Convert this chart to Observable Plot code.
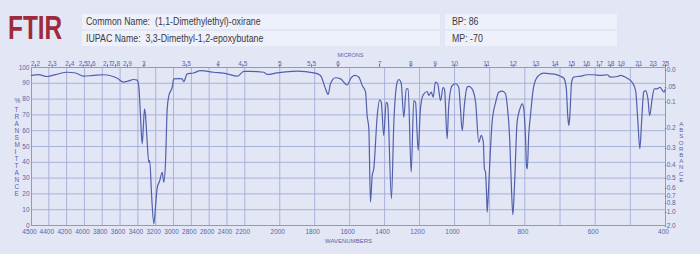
<!DOCTYPE html>
<html>
<head>
<meta charset="utf-8">
<script src="https://cdn.jsdelivr.net/npm/d3@7"></script>
<script src="https://cdn.jsdelivr.net/npm/@observablehq/plot@0.6"></script>
<style>
  html, body { margin: 0; padding: 0; }
  body { width: 700px; height: 254px; background: #e3e7f5; position: relative; overflow: hidden; font-family: "Liberation Sans", Arial, sans-serif; }
  #ftir { position: absolute; left: 8px; top: 9px; font-size: 33px; font-weight: bold; color: #9e2b3c; transform: scaleX(0.74); transform-origin: left top; }
  .box { position: absolute; background: #eef0fa; height: 15px; }
  .lbl { position: absolute; font-size: 11px; color: #3a3a44; white-space: nowrap; transform: scaleX(0.8); transform-origin: left top; line-height: 15px; }
  #chart { position: absolute; left: 0; top: 48px; }
</style>
</head>
<body>
<div id="ftir">FTIR</div>
<div class="box" style="left:82px; top:14px; width:358px;"></div>
<div class="box" style="left:82px; top:31px; width:358px;"></div>
<div class="box" style="left:445px; top:14px; width:172px;"></div>
<div class="box" style="left:445px; top:31px; width:172px;"></div>
<div class="lbl" style="left:86px; top:14px;">Common Name:&nbsp;&nbsp;(1,1-Dimethylethyl)-oxirane</div>
<div class="lbl" style="left:86px; top:31px;">IUPAC Name:&nbsp;&nbsp;3,3-Dimethyl-1,2-epoxybutane</div>
<div class="lbl" style="left:452px; top:14px;">BP: 86</div>
<div class="lbl" style="left:452px; top:31px;">MP: -70</div>
<div id="chart"></div>
<script>
// ---- data ----
const wavenumber = [4500,4460,4409,4325,4193,4100,4011,3898,3786,3707,3632,3562,3505,3449,3408,3390,3371,3352,3341,3326,3315,3298,3278,3267,3247,3221,3202,3183,3157,3127,3109,3090,3071,3053,3015,2997,2944,2903,2885,2847,2776,2697,2548,2398,2285,2211,2167,2091,2072,2015,1900,1805,1767,1738,1723,1710,1681,1652,1614,1595,1572,1548,1528,1509,1500,1490,1481,1471,1462,1442,1429,1419,1405,1391,1383,1361,1347,1328,1319,1305,1290,1276,1265,1248,1233,1223,1208,1195,1179,1156,1147,1133,1122,1109,1096,1080,1065,1057,1042,1033,1013,997,988,983,978,972,964,959,950,940,931,924,918,915,912,909,907,904,900,893,883,874,864,855,850,843,838,834,829,822,814,807,803,798,795,793,789,784,776,770,760,746,727,713,699,689,682,678,675,672,667,661,642,623,604,585,566,556,537,528,509,495,485,479,473,468,462,457,450,445,438,432,424,415,410,404,401];
const transmittance = [95,95.5,94.3,95.5,97,96.5,94.5,95,95.4,94.8,93.2,90.7,91.5,92.4,92,88,70,51.7,60,73.8,70,55,40,41,20,1,12,24,28,33.7,27.4,40,73.8,82,87.5,92.8,93,92.8,91,96,96.5,98,97,96,94.5,97.5,97.5,97,95.6,96.6,97.7,96.6,95,86.5,82.9,89.7,93.5,92.8,89,92.8,95,94,88.6,84.4,69.6,61,14.7,31.6,35.9,69.6,79.5,78,57,78,77,16.9,65.4,90.7,92.4,90,68.5,86.5,86.5,33.7,79,78,47.5,73.8,82.7,84.8,82.3,84.4,81.2,90.7,89.7,79,87.5,86,54.9,76,88.6,89.7,87.5,73.8,60,76,87.5,88,86.5,78,52.7,57,52.7,35.9,34,21,8.4,19,38,65.4,78,84.4,85,83.4,76,54.9,23.2,6.8,27.4,65.4,73.8,77,73.8,54.9,36.9,35.9,57,69.6,86.5,91.8,95,96.4,96,95.6,94.5,93.2,86.5,69.6,63.3,69.6,90.7,93.9,94.5,95.4,95.4,95,95.4,93.9,94.3,95,93.2,90.7,85.4,67.5,48.5,65.4,84.4,85.4,80.2,69.6,80.2,86.5,86.5,87.5,85.9,84.4,86];

// axis ticks
const wavenumberTicks = [4500,4400,4200,4000,3800,3600,3400,3200,3000,2800,2600,2400,2200,2000,1800,1600,1400,1200,1000,800,600,400];
const wavenumberGrid = [4400,4200,4000,3800,3600,3400,3200,3000,2800,2600,2400,2200,2000,1800,1600,1400,1200,1000,900,800,700,600,500];
const transmittanceTicks = [0,10,20,30,40,50,60,70,80,90,100];
const micronLabels = ["2.2","2.3","2.4","2.5","2.6","2.7","2.8","2.9","3","3.5","4","4.5","5","5.5","6","7","8","9","10","11","12","13","14","15","16","17","18","19","21","23","25"];
const micronAt = [4477,4362,4164,4014,3924,3741,3651,3517,3333,2857,2500,2222,2000,1818,1667,1429,1250,1111,1000,909,833,769,714,667,625,588,556,526,476,435,400];
const absorbanceLabels = ["0.0",".05","0.1","0.2","0.3","0.4","0.5","0.6","0.7","0.8","1.0","2.0"];
const absorbanceValues = [0,0.05,0.1,0.2,0.3,0.4,0.5,0.6,0.7,0.8,1.0,2.0];

// chart's piecewise wavenumber axis (different scale in each section)
const axisBreaks = [4500, 4400, 2200, 1000, 400];
const axisUnits = [0, 17.3, 213.3, 423, 634];
const warp = d3.scaleLinear().domain(axisBreaks).range(axisUnits);

const spectrum = wavenumber.map((w, i) => ({w, t: transmittance[i]}));
const absTicks = absorbanceValues.map((a, i) => ({t: 100 * Math.pow(10, -a), label: absorbanceLabels[i]}));
const microns = micronLabels.map((m, i) => ({w: micronAt[i], label: m}));

const gridColor = "#a3abd8";
const inkColor = "#5a63ab";
const fontSm = 6.5;

const chart = Plot.plot({
  width: 700,
  height: 206,
  marginTop: 19,
  marginBottom: 29,
  marginLeft: 31,
  marginRight: 35,
  style: {background: "transparent", fontFamily: "Liberation Sans, Arial, sans-serif", overflow: "visible"},
  x: {type: "linear", transform: warp, domain: [0, 634], axis: null},
  y: {domain: [0, 100], axis: null},
  marks: [
    Plot.ruleX(wavenumberGrid, {stroke: gridColor, strokeWidth: 0.9}),
    Plot.ruleY(transmittanceTicks, {stroke: gridColor, strokeWidth: 0.9}),
    Plot.frame({stroke: "#8f97cc", strokeWidth: 1}),
    Plot.line(spectrum, {x: "w", y: "t", stroke: "#5160ad", strokeWidth: 1.2, curve: "monotone-x"}),
    // bottom wavenumber labels
    Plot.text(wavenumberTicks, {x: d => d, frameAnchor: "bottom", dy: 8, text: d => String(d), fontSize: fontSm, fill: inkColor, dx: -2}),
    Plot.text(["WAVENUMBERS"], {frameAnchor: "bottom", dy: 17, fontSize: 6, fill: inkColor}),
    // left transmittance labels
    Plot.text(transmittanceTicks, {y: d => d, frameAnchor: "left", dx: -2, textAnchor: "end", text: d => String(d), fontSize: fontSm, fill: inkColor}),
    Plot.text(["%"], {frameAnchor: "top-left", dx: -17, dy: 31, fontSize: 6.5, fill: inkColor}),
    Plot.text(["T\nR\nA\nN\nS\nM\nI\nT\nT\nA\nN\nC\nE"], {frameAnchor: "left", dx: -17, dy: 5.5, fontSize: 6.5, lineHeight: 1.08, fill: inkColor}),
    // right absorbance labels
    Plot.text(absTicks, {y: "t", frameAnchor: "right", dx: -1, dy: 2, textAnchor: "start", text: d => "-" + d.label, fontSize: fontSm, fill: inkColor}),
    Plot.text(["A\nB\nS\nO\nR\nB\nA\nN\nC\nE"], {frameAnchor: "right", dx: 18, dy: 5.5, fontSize: 6.2, lineHeight: 1.0, fill: inkColor}),
    // top micron labels
    Plot.ruleX(microns, {x: "w", y1: 100, y2: 101.8, stroke: inkColor, strokeWidth: 0.8}),
    Plot.text(microns, {x: "w", frameAnchor: "top", dy: -6, text: "label", fontSize: fontSm, fill: inkColor}),
    Plot.text(["MICRONS"], {frameAnchor: "top", dy: -14, dx: 2, fontSize: 5.5, fill: inkColor})
  ]
});
document.getElementById("chart").appendChild(chart);
</script>
</body>
</html>
